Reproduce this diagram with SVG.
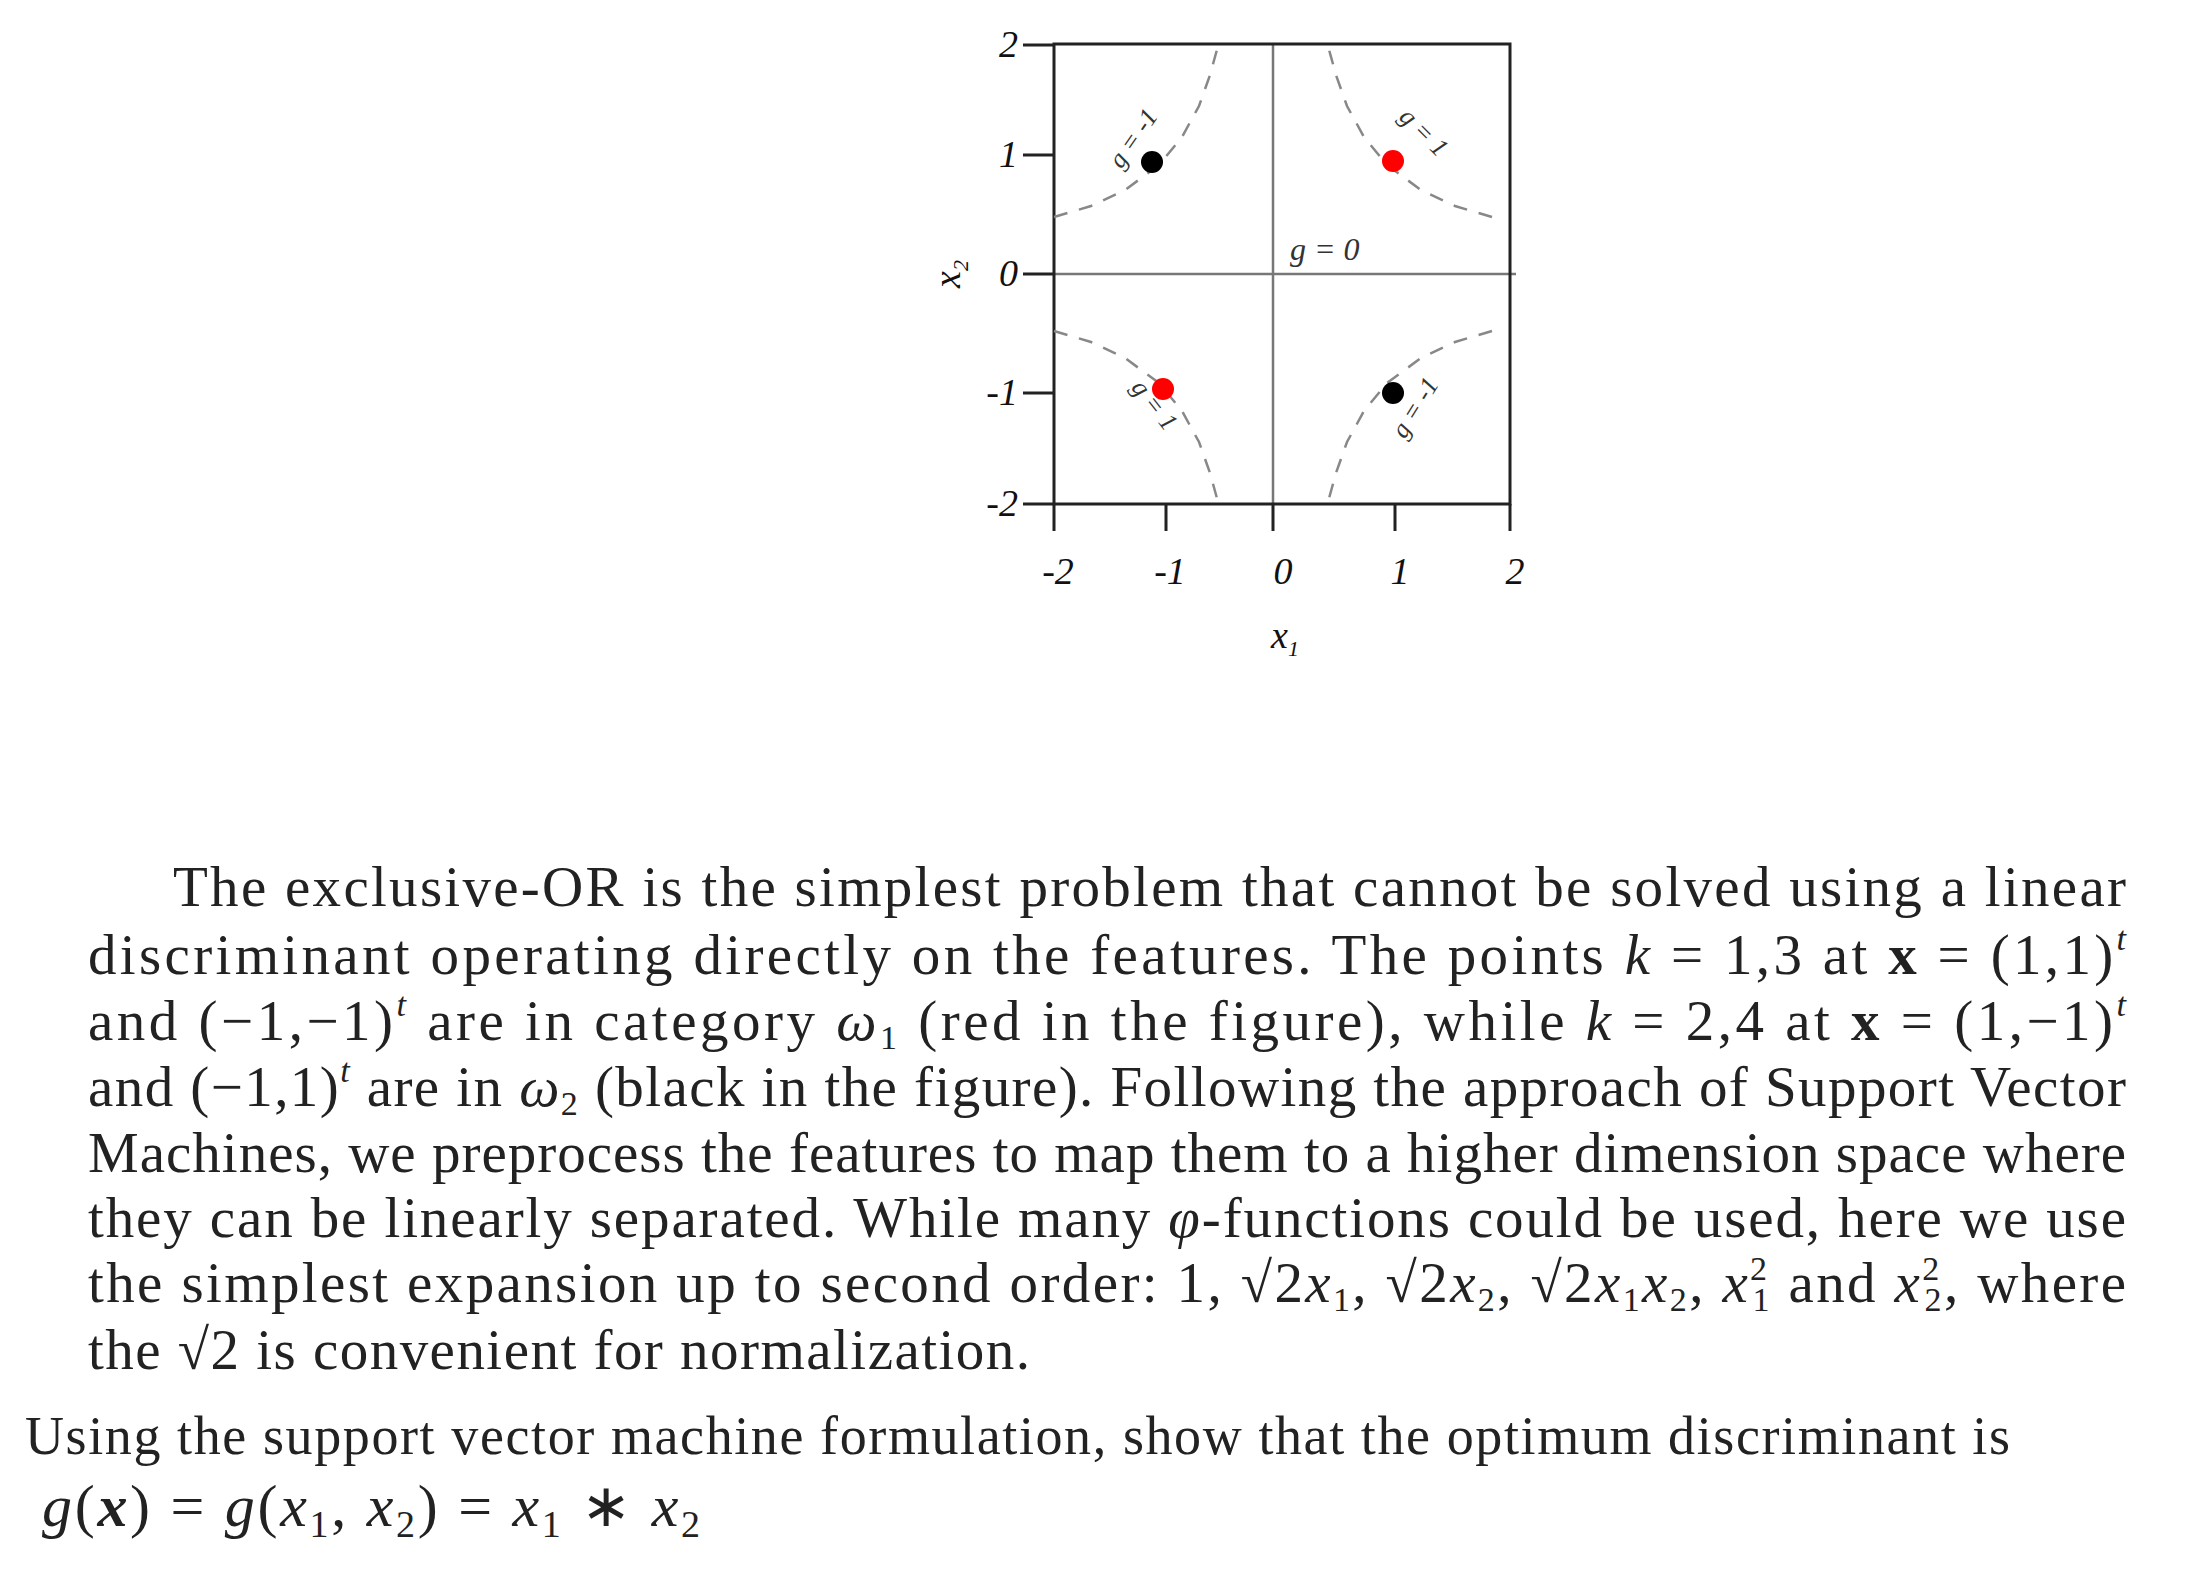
<svg xmlns="http://www.w3.org/2000/svg" width="2197" height="1573" viewBox="0 0 2197 1573">
<style>
.ax{stroke:#222;stroke-width:3;fill:none}
.gl{stroke:#777;stroke-width:2.5}
.cv{stroke:#888;stroke-width:2.5;fill:none;stroke-dasharray:14 12}
.tk{font-family:"Liberation Serif",serif;font-style:italic;font-size:38px;fill:#111}
.gt{font-family:"Liberation Serif",serif;font-style:italic;font-size:26px;fill:#333}
.p{font-family:"Liberation Serif",serif;font-size:57px;fill:#222}
.i{font-style:italic}
</style>
<rect width="2197" height="1573" fill="#fff"/>
<g id="plot">
<line class="gl" x1="1273" y1="44" x2="1273" y2="504"/>
<line class="gl" x1="1054" y1="274" x2="1516" y2="274"/>
<rect class="ax" x="1054" y="44" width="456" height="460"/>
<path class="ax" d="M1023 45H1054M1023 155H1054M1023 274H1054M1023 393H1054M1023 504H1054M1054 504V531M1166 504V531M1273 504V531M1395 504V531M1510 504V531"/>
</g>
<g id="curves">
<path class="cv" d="M1054 217 L1091 206 L1125 190 L1159 165 L1182 137 L1199 106 L1210 75 L1218 46"/>
<path class="cv" d="M1492 217 L1455 206 L1421 190 L1387 165 L1364 137 L1347 106 L1336 75 L1328 46"/>
<path class="cv" d="M1054 331 L1091 342 L1125 358 L1159 383 L1182 411 L1199 442 L1210 473 L1218 502"/>
<path class="cv" d="M1492 331 L1455 342 L1421 358 L1387 383 L1364 411 L1347 442 L1336 473 L1328 502"/>
</g>
<g id="points">
<circle cx="1152" cy="162" r="11" fill="#000"/>
<circle cx="1393" cy="161" r="11" fill="#f00"/>
<circle cx="1163" cy="389" r="11" fill="#f00"/>
<circle cx="1393" cy="393" r="11" fill="#000"/>
</g>
<g id="labels">
<text class="gt" text-anchor="middle" transform="translate(1140,143) rotate(-55)">g = -1</text>
<text class="gt" text-anchor="middle" transform="translate(1418,138) rotate(45)">g = 1</text>
<text class="gt" text-anchor="middle" transform="translate(1148,410) rotate(52)">g = 1</text>
<text class="gt" text-anchor="middle" transform="translate(1422,412) rotate(-58)">g = -1</text>
<text class="gt" x="1290" y="260" style="font-size:32px">g = 0</text>
<g class="tk" text-anchor="end">
<text x="1018" y="57">2</text><text x="1018" y="167">1</text><text x="1018" y="286">0</text><text x="1018" y="405">-1</text><text x="1018" y="516">-2</text>
</g>
<g class="tk" text-anchor="middle">
<text x="1058" y="584">-2</text><text x="1170" y="584">-1</text><text x="1283" y="584">0</text><text x="1400" y="584">1</text><text x="1515" y="584">2</text>
<text x="1285" y="648">x<tspan font-size="22" dy="8">1</tspan></text>
<text transform="translate(960,274) rotate(-90)">x<tspan font-size="22" dy="8">2</tspan></text>
</g>
</g>
<g id="text" class="p">
<text x="173" y="906" textLength="1953" lengthAdjust="spacing">The exclusive-OR is the simplest problem that cannot be solved using a linear</text>
<text x="88" y="974" textLength="2038" lengthAdjust="spacing">discriminant operating directly on the features. The points <tspan class="i">k</tspan> = 1,3 at <tspan font-weight="bold">x</tspan> = (1,1)<tspan class="i" font-size="34" dy="-24">t</tspan></text>
<text x="88" y="1040" textLength="2038" lengthAdjust="spacing">and (−1,−1)<tspan class="i" font-size="34" dy="-24">t</tspan><tspan dy="24"> are in category </tspan><tspan class="i">ω</tspan><tspan font-size="34" dy="9">1</tspan><tspan dy="-9"> (red in the figure), while </tspan><tspan class="i">k</tspan> = 2,4 at <tspan font-weight="bold">x</tspan> = (1,−1)<tspan class="i" font-size="34" dy="-24">t</tspan></text>
<text x="88" y="1106" textLength="2038" lengthAdjust="spacing">and (−1,1)<tspan class="i" font-size="34" dy="-24">t</tspan><tspan dy="24"> are in </tspan><tspan class="i">ω</tspan><tspan font-size="34" dy="9">2</tspan><tspan dy="-9"> (black in the figure). Following the approach of Support Vector</tspan></text>
<text x="88" y="1172" textLength="2038" lengthAdjust="spacing">Machines, we preprocess the features to map them to a higher dimension space where</text>
<text x="88" y="1237" textLength="2038" lengthAdjust="spacing">they can be linearly separated. While many <tspan class="i">φ</tspan>-functions could be used, here we use</text>
<text x="88" y="1302" textLength="2038" lengthAdjust="spacing">the simplest expansion up to second order: 1, √2<tspan class="i">x</tspan><tspan font-size="34" dy="9">1</tspan><tspan dy="-9">, √2</tspan><tspan class="i">x</tspan><tspan font-size="34" dy="9">2</tspan><tspan dy="-9">, √2</tspan><tspan class="i">x</tspan><tspan font-size="34" dy="9">1</tspan><tspan class="i" dy="-9">x</tspan><tspan font-size="34" dy="9">2</tspan><tspan dy="-9">, </tspan><tspan class="i">x</tspan><tspan font-size="34" dy="-22">2</tspan><tspan font-size="34" dx="-17" dy="31">1</tspan><tspan dy="-9"> and </tspan><tspan class="i">x</tspan><tspan font-size="34" dy="-22">2</tspan><tspan font-size="34" dx="-17" dy="31">2</tspan><tspan dy="-9">, where</tspan></text>
<text x="88" y="1369" textLength="942" lengthAdjust="spacing">the √2 is convenient for normalization.</text>
<text x="25" y="1454" style="font-size:54px" textLength="1985" lengthAdjust="spacing">Using the support vector machine formulation, show that the optimum discriminant is</text>
<text x="42" y="1526" style="font-size:60px" textLength="658" lengthAdjust="spacing"><tspan class="i">g</tspan>(<tspan class="i" font-weight="bold">x</tspan>) = <tspan class="i">g</tspan>(<tspan class="i">x</tspan><tspan font-size="38" dy="11">1</tspan><tspan dy="-11">, </tspan><tspan class="i">x</tspan><tspan font-size="38" dy="11">2</tspan><tspan dy="-11">) = </tspan><tspan class="i">x</tspan><tspan font-size="38" dy="11">1</tspan><tspan dy="-11"> ∗ </tspan><tspan class="i">x</tspan><tspan font-size="38" dy="11">2</tspan></text>
</g>
</svg>
